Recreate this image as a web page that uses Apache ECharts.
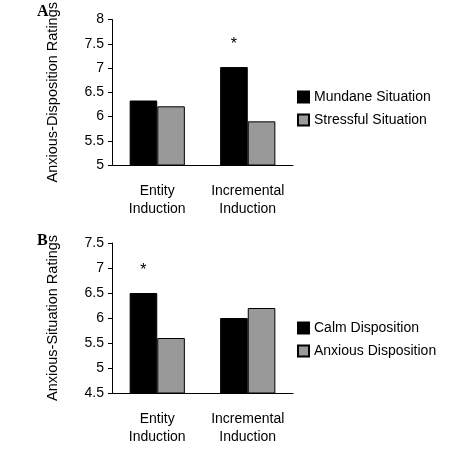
<!DOCTYPE html>
<html><head><meta charset="utf-8">
<script src="https://cdn.jsdelivr.net/npm/echarts@6/dist/echarts.min.js"></script>
<style>html,body{margin:0;padding:0;background:#fff}#c{width:474px;height:452px}</style>
</head><body><div id="c"></div>
<script>
const categories = ['Entity\nInduction', 'Incremental\nInduction'];
const mundane = [6.33, 7.02];
const stressful = [6.21, 5.9];
const calm = [6.5, 6.0];
const anxious = [5.6, 6.2];
const starA = [false, true];
const starB = [true, false];

const F = 'Liberation Sans, Arial, sans-serif';
function withStar(vals, stars){
  return vals.map((v,i)=> stars[i] ? {value:v, label:{show:true, position:'top', distance:14, formatter:'*', fontSize:16, color:'#000', fontFamily:F}} : v);
}
const chart = echarts.init(document.getElementById('c'));
const xAx = i => ({type:'category', gridIndex:i, data:categories,
  axisLine:{lineStyle:{color:'#000'}}, axisTick:{show:false},
  axisLabel:{color:'#000', fontSize:14, fontFamily:F, margin:17, lineHeight:18, interval:0}});
const yAx = (i,min,max,name) => ({type:'value', gridIndex:i, min, max, interval:0.5,
  name, nameLocation:'middle', nameGap:52, nameTextStyle:{color:'#000', fontSize:14.5, fontFamily:F},
  axisLine:{show:true, lineStyle:{color:'#000'}}, axisTick:{show:true, inside:false, length:4, lineStyle:{color:'#000'}},
  splitLine:{show:false}, axisLabel:{color:'#000', fontSize:14, fontFamily:F, margin:8,
    formatter: v => String(Math.round(v*10)/10)}});
const bar = (name, data, xi, color) => ({type:'bar', name, data, xAxisIndex:xi, yAxisIndex:xi,
  barGap:0, barCategoryGap:'39%', itemStyle:{color, borderColor:'#000', borderWidth:1}});
const legend = (top, names) => ({top, left:292, orient:'vertical', data:names, itemWidth:11, itemHeight:11,
  itemGap:9, icon:'rect', textStyle:{color:'#000', fontSize:14, fontFamily:F}, selectedMode:false});
chart.setOption({
  animation:false,
  grid:[{left:112, width:181, top:17, height:148},{left:112, width:181, top:243, height:150}],
  xAxis:[xAx(0), xAx(1)],
  yAxis:[yAx(0,5,8,'Anxious-Disposition Ratings'), yAx(1,4.5,7.5,'Anxious-Situation Ratings')],
  legend:[legend(85,['Mundane Situation','Stressful Situation']), legend(316,['Calm Disposition','Anxious Disposition'])],
  series:[
    bar('Mundane Situation', withStar(mundane, starA), 0, '#000'),
    bar('Stressful Situation', stressful, 0, '#999'),
    bar('Calm Disposition', withStar(calm, starB), 1, '#000'),
    bar('Anxious Disposition', anxious, 1, '#999')
  ],
  graphic:[
    {type:'text', left:37, top:4, style:{text:'A', font:'bold 16px Liberation Serif, serif', fill:'#000'}},
    {type:'text', left:37, top:233, style:{text:'B', font:'bold 16px Liberation Serif, serif', fill:'#000'}}
  ]
});
</script></body></html>
